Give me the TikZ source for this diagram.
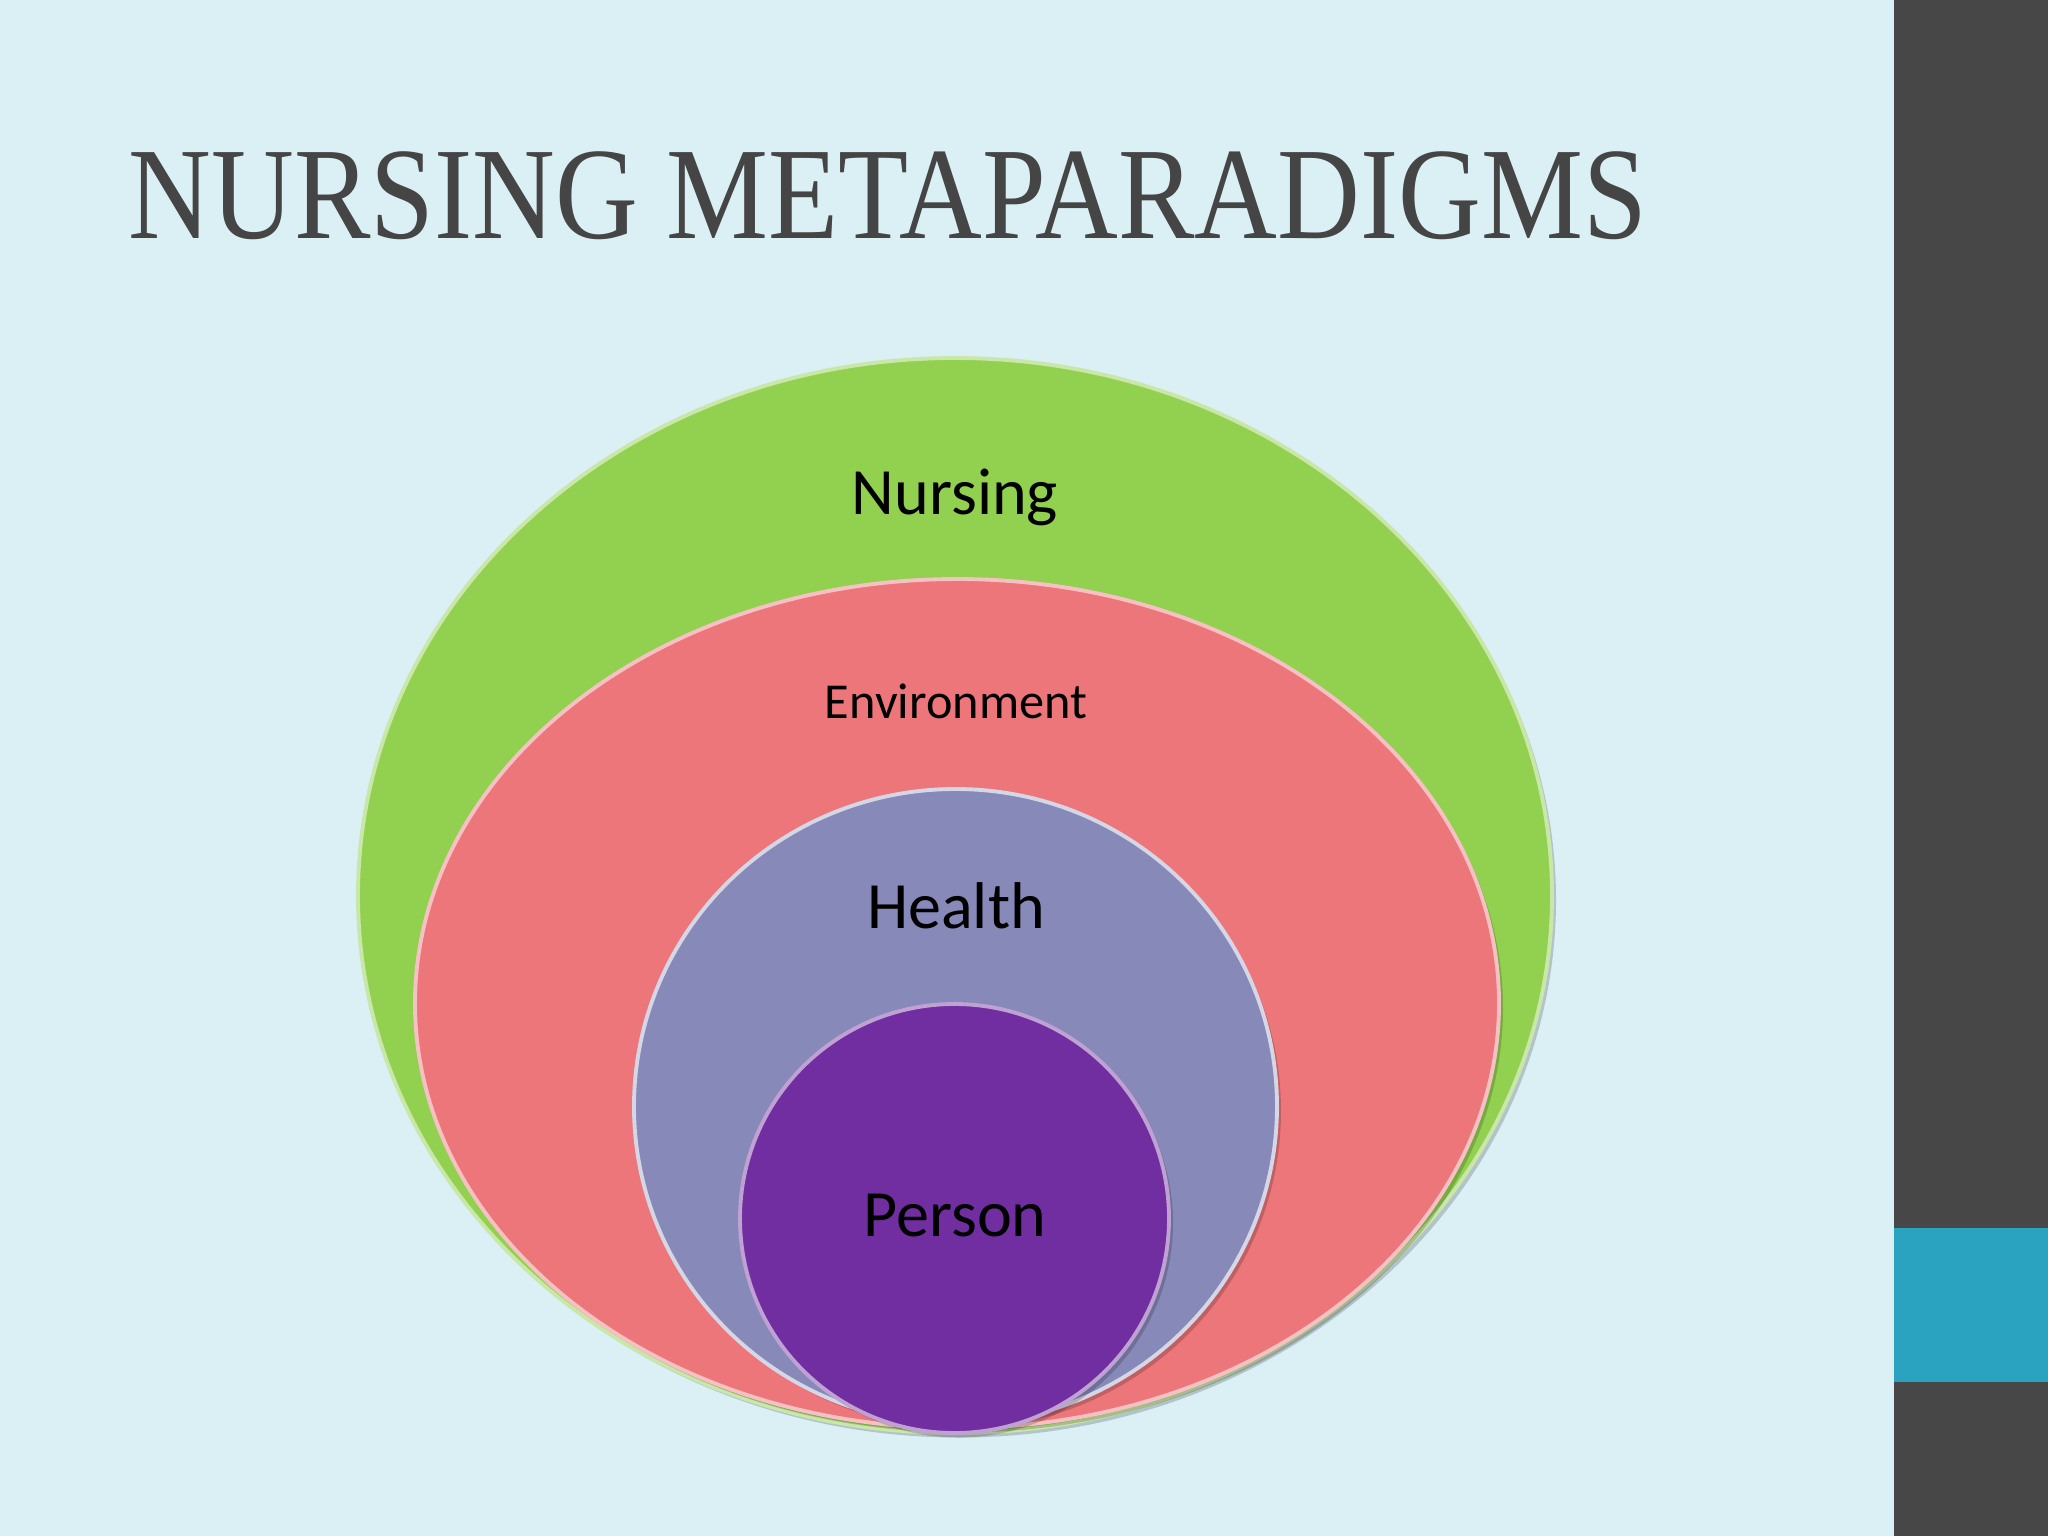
\documentclass[tikz,border=0pt]{standalone}
\usepackage{fontspec}
\usepackage{graphicx}
\setmainfont{Carlito}
\newfontfamily\titlefont{Liberation Serif}
\usetikzlibrary{shapes.geometric}
\definecolor{bgblue}{HTML}{DBF0F5}
\definecolor{darkbar}{HTML}{474747}
\definecolor{tealbar}{HTML}{2AA3C0}
\definecolor{titlegray}{HTML}{454545}
\definecolor{nursegreen}{HTML}{92D050}
\definecolor{envred}{HTML}{EC7679}
\definecolor{healthblue}{HTML}{8789B9}
\definecolor{personpurple}{HTML}{702EA0}
\tikzset{
  ring/.style={ellipse, inner sep=0pt, line width=1.1pt},
  shadowring/.style={ellipse, inner sep=0pt, fill=black, opacity=0.18},
  biglabel/.style={inner sep=0pt, anchor=base, font=\fontsize{18.8pt}{22pt}\selectfont, text=black},
  smalllabel/.style={inner sep=0pt, anchor=base, font=\fontsize{14.3pt}{17pt}\selectfont, text=black}
}
\begin{document}
\begin{tikzpicture}[x=0.01cm, y=-0.01cm]
\useasboundingbox (0,0) rectangle (2048,1536);
\fill[bgblue] (0,0) rectangle (2048,1536);
\fill[darkbar] (1894,0) rectangle (2048,1536);
\fill[tealbar] (1894,1228) rectangle (2048,1382);
\node[inner sep=0pt, anchor=base west, text=titlegray, font=\titlefont\fontsize{37.3pt}{40pt}\selectfont] (title) at (128,238) {\scalebox{0.874}[1]{NURSING METAPARADIGMS}};
% shadows and rings
\node[shadowring, minimum width=1194*0.01cm, minimum height=1075*0.01cm] (nshadow) at (959,900) {};
\node[ring, fill=nursegreen, draw=nursegreen!50!white, minimum width=1194*0.01cm, minimum height=1075*0.01cm] (nursing) at (955,895.5) {};
\node[shadowring, minimum width=1084*0.01cm, minimum height=849*0.01cm] (eshadow) at (961,1008) {};
\node[ring, fill=envred, draw=envred!45!white, minimum width=1084*0.01cm, minimum height=849*0.01cm] (environment) at (957,1003.5) {};
\node[shadowring, minimum width=643*0.01cm, minimum height=635*0.01cm] (hshadow) at (959.5,1111) {};
\node[ring, fill=healthblue, draw=healthblue!35!white, minimum width=643*0.01cm, minimum height=635*0.01cm] (health) at (955.5,1106.5) {};
\node[shadowring, minimum width=429*0.01cm, minimum height=429*0.01cm] (pshadow) at (958.5,1223) {};
\node[ring, fill=personpurple, draw=personpurple!45!white, minimum width=429*0.01cm, minimum height=429*0.01cm] (person) at (954.5,1218.5) {};
% labels
\node[biglabel] (lnursing) at (955,514) {Nursing};
\node[smalllabel] (lenv) at (956,718) {Environment};
\node[biglabel] (lhealth) at (956,928) {Health};
\node[biglabel] (lperson) at (955,1236) {Person};
\end{tikzpicture}
\end{document}
